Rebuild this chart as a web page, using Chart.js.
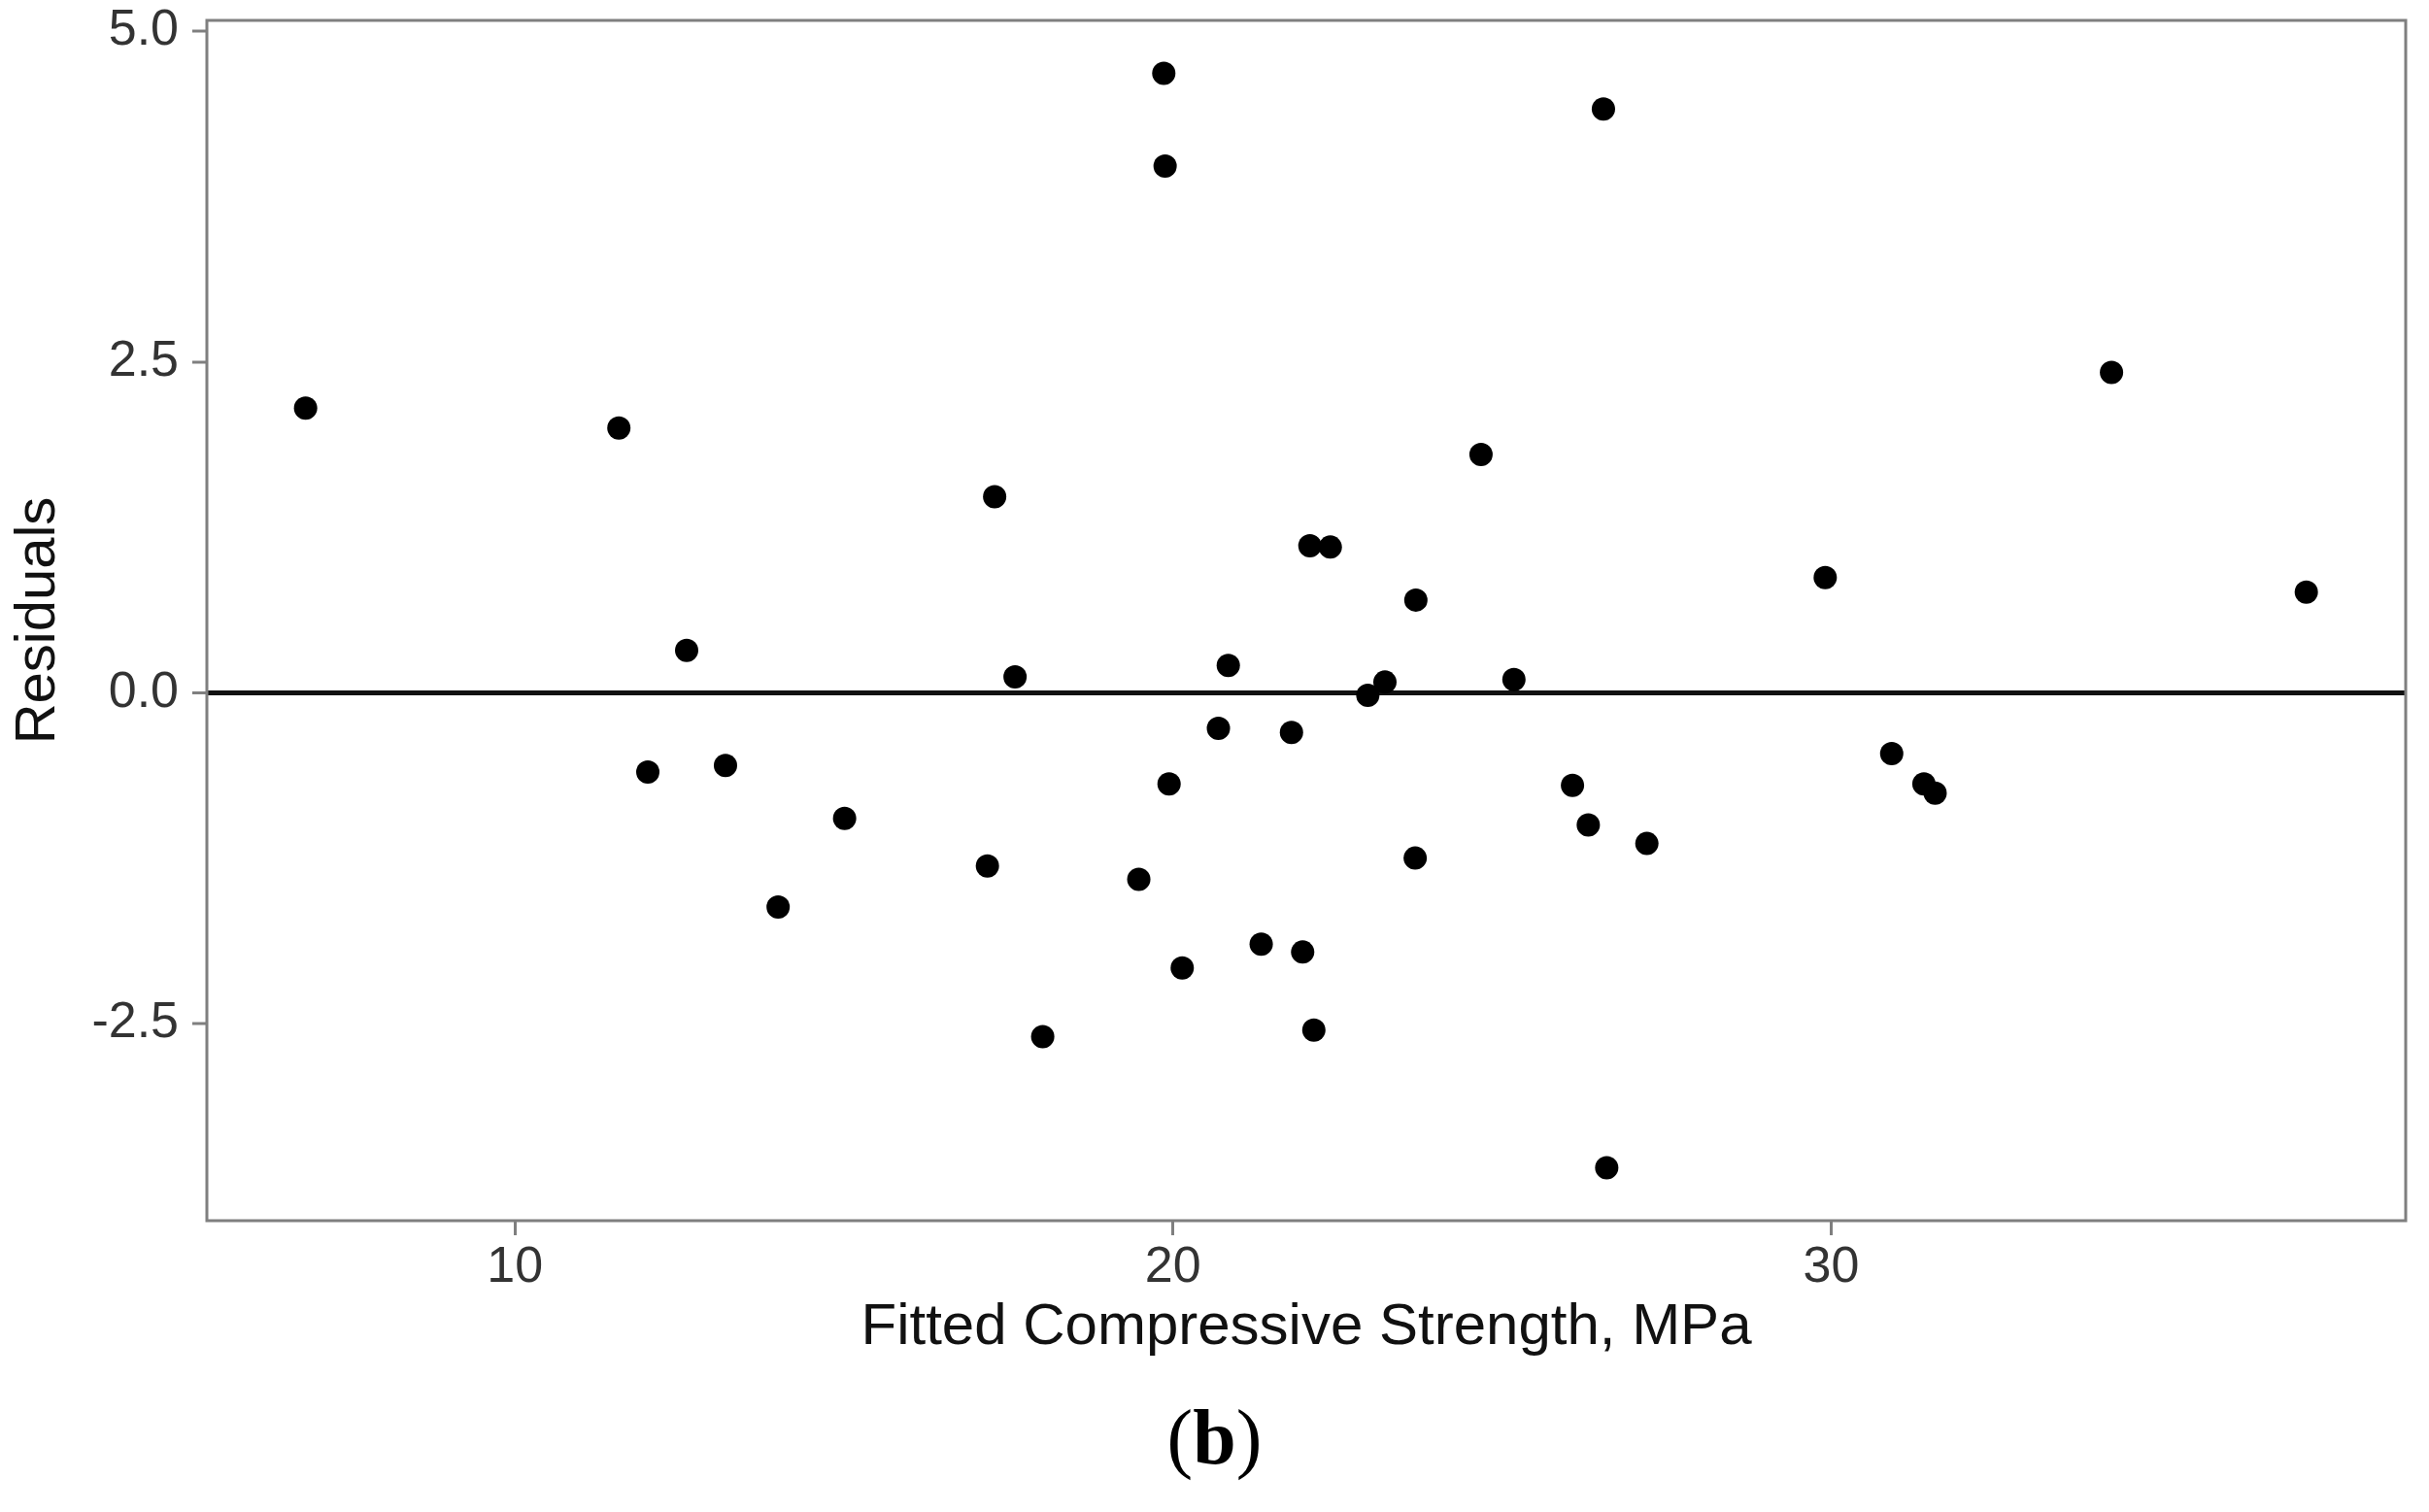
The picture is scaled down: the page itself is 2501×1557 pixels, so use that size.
<!DOCTYPE html>
<html lang="en">
<head>
  <meta charset="UTF-8" />
  <title>Residuals vs Fitted Compressive Strength</title>
  <script src="https://cdn.jsdelivr.net/npm/chart.js"></script>
  <style>
    html, body { margin: 0; padding: 0; background: #fff; }
    #wrap { position: relative; width: 2501px; height: 1557px; }
    #caption {
      position: absolute; left: 0; top: 1440px; width: 2501px;
      text-align: center; font-family: "Liberation Serif", "DejaVu Serif", serif;
      font-size: 80px; line-height: 80px; color: #000;
    }
  </style>
</head>
<body>
  <div id="wrap">
    <canvas id="residualChart"></canvas>
    <div id="caption">(<b>b</b>)</div>
  </div>

  <script>
  // Fitted values (MPa) and their residuals
  const fitted = [
    6.82, 11.58, 12.61, 12.02, 13.20, 14.00, 15.01, 17.18, 17.29, 17.60,
    18.02, 19.48, 19.86, 19.88, 19.94, 20.14, 20.69, 20.84, 21.34, 21.80,
    21.97, 22.08, 22.39, 22.14, 22.96, 23.22, 23.69, 23.68, 24.68, 25.18,
    26.07, 26.31, 26.54, 26.59, 27.20, 29.91, 30.92, 31.41, 31.58, 34.26,
    37.22
  ];
  const residuals = [
    2.15, 2.00, 0.32, -0.60, -0.55, -1.62, -0.95, -1.31, 1.48, 0.12,
    -2.60, -1.41, 4.68, 3.98, -0.69, -2.08, -0.27, 0.205, -1.90, -0.30,
    -1.96, 1.11, 1.10, -2.55, -0.02, 0.08, 0.70, -1.25, 1.80, 0.10,
    -0.70, -1.00, 4.41, -3.59, -1.14, 0.87, -0.46, -0.69, -0.76, 2.42,
    0.76
  ];

  const xTicks = [10, 20, 30];
  const yTicks = [-2.5, 0, 2.5, 5.0];
  const xMin = 5.32, xMax = 38.73;
  const yMin = -3.99, yMax = 5.08;

  const sans = '"Liberation Sans", Arial, sans-serif';

  // grey frame round the panel, like ggplot's theme_bw
  const panelBorder = {
    id: 'panelBorder',
    afterDraw(chart) {
      const { ctx, chartArea: a } = chart;
      ctx.save();
      ctx.strokeStyle = '#7f7f7f';
      ctx.lineWidth = 3;
      ctx.strokeRect(a.left, a.top, a.right - a.left, a.bottom - a.top);
      ctx.restore();
    }
  };

  // stop the tick labels from pushing the panel inwards
  function noLabelPadding(s) {
    s.paddingTop = 0;
    s.paddingBottom = 0;
    s.paddingLeft = 0;
    s.paddingRight = 0;
  }

  const points = fitted.map((x, i) => ({ x: x, y: residuals[i] }));

  new Chart(document.getElementById('residualChart'), {
    type: 'scatter',
    data: {
      datasets: [{
        data: points,
        backgroundColor: '#000',
        borderWidth: 0,
        pointRadius: 12,
        pointHoverRadius: 12
      }]
    },
    options: {
      responsive: true,
      maintainAspectRatio: false,
      devicePixelRatio: 1,
      animation: false,
      layout: { padding: { left: 0, right: 24, top: 21, bottom: 154 } },
      plugins: {
        legend: { display: false },
        tooltip: { enabled: false }
      },
      scales: {
        x: {
          type: 'linear',
          min: xMin,
          max: xMax,
          afterBuildTicks: s => { s.ticks = xTicks.map(v => ({ value: v })); },
          afterFit: s => { s.height = 146; noLabelPadding(s); },
          border: { display: false },
          grid: {
            drawOnChartArea: false,
            drawTicks: true,
            tickLength: 15,
            tickColor: '#7f7f7f',
            tickWidth: 3
          },
          ticks: {
            padding: 2,
            color: '#333',
            maxRotation: 0,
            autoSkip: false,
            font: { family: sans, size: 52 }
          },
          title: {
            display: true,
            text: 'Fitted Compressive Strength, MPa',
            color: '#111',
            padding: 0,
            font: { family: sans, size: 60 }
          }
        },
        y: {
          type: 'linear',
          min: yMin,
          max: yMax,
          afterBuildTicks: s => { s.ticks = yTicks.map(v => ({ value: v })); },
          afterFit: s => { s.width = 213; noLabelPadding(s); },
          border: { display: false },
          grid: {
            drawOnChartArea: true,
            // only the zero reference line is drawn inside the panel
            color: c => (c.tick && c.tick.value === 0 ? '#111' : 'rgba(0,0,0,0)'),
            lineWidth: c => (c.tick && c.tick.value === 0 ? 5 : 0),
            drawTicks: true,
            tickLength: 15,
            tickColor: '#7f7f7f',
            tickWidth: 3
          },
          ticks: {
            padding: 14,
            color: '#333',
            autoSkip: false,
            font: { family: sans, size: 52 },
            callback: v => Number(v).toFixed(1)
          },
          title: {
            display: true,
            text: 'Residuals',
            color: '#111',
            padding: { top: 5, bottom: 0 },
            font: { family: sans, size: 58 }
          }
        }
      }
    },
    plugins: [panelBorder]
  });
  </script>
</body>
</html>
